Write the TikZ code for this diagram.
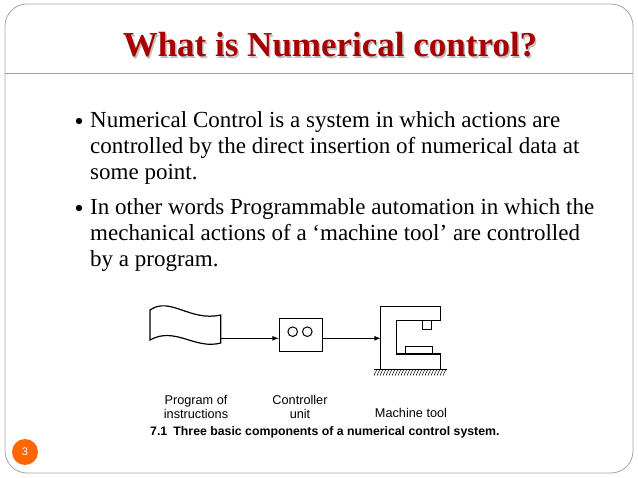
\documentclass[tikz,border=0pt]{standalone}
\usepackage{fontspec}
\setmainfont{Liberation Serif}
\newfontfamily\lsans{Liberation Sans}
\begin{document}
\begin{tikzpicture}[x=1pt,y=-1pt,
  body/.style={anchor=base west,font=\fontsize{23}{26}\selectfont,inner sep=0pt},
  lab/.style={font=\lsans\fontsize{12.7}{13.5}\selectfont,inner sep=0pt,align=center},
  arr/.style={-latex,line width=1.2pt}]
\useasboundingbox (0,0) rectangle (638,478);
\fill[white] (0,0) rectangle (638,478);
\draw[gray!70,line width=0.8pt,rounded corners=22pt] (5,4) rectangle (633,473);
\node[font=\bfseries\fontsize{35}{38}\selectfont,text=black!25] at (331.5,46.5) {What is Numerical control?};
\node[font=\bfseries\fontsize{35}{38}\selectfont,text=red!65!black] (title) at (330,45) {What is Numerical control?};
\draw[orange!60!red!70,line width=0.8pt] (5,73) -- (633,73);
\foreach \y in {121,208}{\fill (79,\y) circle (3.2);}
\node[body] (l1) at (90,128) {Numerical Control is a system in which actions are};
\node[body] (l2) at (90,154) {controlled by the direct insertion of numerical data at};
\node[body] (l3) at (90,180) {some point.};
\node[body] (l4) at (90,215) {In other words Programmable automation in which the};
\node[body] (l5) at (90,241) {mechanical actions of a ‘machine tool’ are controlled};
\node[body] (l6) at (90,267) {by a program.};
% program tape
\draw[line width=1.2pt] (150,310) .. controls (170,296) and (190,322) .. (220.7,315)
  -- (220.7,343) .. controls (195,350) and (175,326) .. (150,340) -- cycle;
\coordinate (tape) at (220.7,338.3);
% controller
\node[draw,line width=1.2pt,minimum width=43.4pt,minimum height=33.4pt,inner sep=0pt] (ctrl) at (301,335) {};
\draw[line width=1pt] (292.7,331.7) circle (4.8) (307.3,331.7) circle (4.8);
% machine tool
\draw[line width=1.2pt] (380.7,306.7) -- (440.7,306.7) -- (440.7,320.7) -- (396.7,320.7) -- (396.7,354) -- (440.7,354) -- (440.7,369.3) -- (380.7,369.3) -- cycle;
\draw[line width=1pt] (422.7,320.7) rectangle (431.7,329.3);
\draw[line width=1pt] (405.3,346.7) rectangle (432,354);
\coordinate (mt) at (380.7,338.3);
\draw[line width=0.8pt] (374,369.3) -- (447,369.3);
\foreach \x in {374,377,...,445}{\draw[line width=0.5pt] (\x+3,369.3) -- (\x,375.5);}
\draw[arr] (tape) -- (ctrl.west|-tape);
\draw[arr] (ctrl.east|-tape) -- (mt);
\node[lab] (p) at (196,407) {Program of\\instructions};
\node[lab] (c) at (300,407) {Controller\\unit};
\node[lab,anchor=base] (m) at (411,418) {Machine tool};
\node[lab,anchor=base west,font=\lsans\bfseries\fontsize{12.3}{13}\selectfont] (cap) at (150,436) {7.1\enspace Three basic components of a numerical control system.};
\fill[orange!80!red] (25,452) circle (13);
\node[text=white,font=\lsans\fontsize{11}{12}\selectfont] (num) at (25,452) {3};
\end{tikzpicture}
\end{document}
